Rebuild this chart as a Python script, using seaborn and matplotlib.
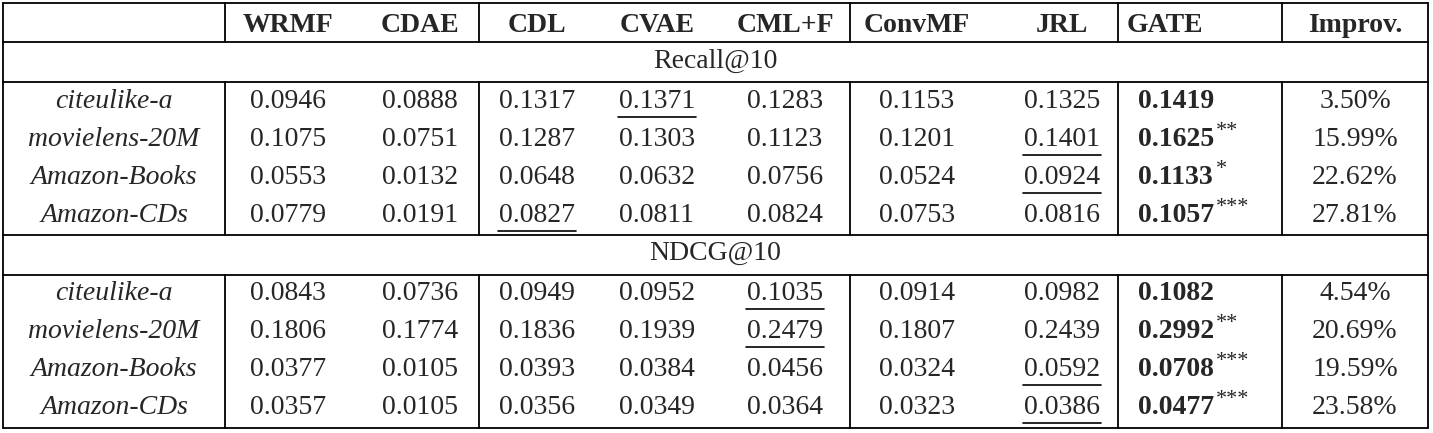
import matplotlib
matplotlib.use('Agg')
import matplotlib.pyplot as plt
import seaborn as sns

methods = ['WRMF', 'CDAE', 'CDL', 'CVAE', 'CML+F', 'ConvMF', 'JRL', 'GATE', 'Improv.']
datasets = ['citeulike-a', 'movielens-20M', 'Amazon-Books', 'Amazon-CDs']

recall = [
    [0.0946, 0.0888, 0.1317, 0.1371, 0.1283, 0.1153, 0.1325, 0.1419],
    [0.1075, 0.0751, 0.1287, 0.1303, 0.1123, 0.1201, 0.1401, 0.1625],
    [0.0553, 0.0132, 0.0648, 0.0632, 0.0756, 0.0524, 0.0924, 0.1133],
    [0.0779, 0.0191, 0.0827, 0.0811, 0.0824, 0.0753, 0.0816, 0.1057],
]
recall_impr = ['3.50%', '15.99%', '22.62%', '27.81%']
recall_stars = ['', '**', '*', '***']
recall_under = [3, 6, 6, 2]

ndcg = [
    [0.0843, 0.0736, 0.0949, 0.0952, 0.1035, 0.0914, 0.0982, 0.1082],
    [0.1806, 0.1774, 0.1836, 0.1939, 0.2479, 0.1807, 0.2439, 0.2992],
    [0.0377, 0.0105, 0.0393, 0.0384, 0.0456, 0.0324, 0.0592, 0.0708],
    [0.0357, 0.0105, 0.0356, 0.0349, 0.0364, 0.0323, 0.0386, 0.0477],
]
ndcg_impr = ['4.54%', '20.69%', '19.59%', '23.58%']
ndcg_stars = ['', '**', '***', '***']
ndcg_under = [4, 4, 6, 6]

sns.set_style('white')
plt.rcParams['font.family'] = ['Liberation Serif', 'DejaVu Serif']

fig = plt.figure(figsize=(14.33, 4.33), dpi=100)
ax = fig.add_axes([0, 0, 1, 1])
ax.set_xlim(0, 1433)
ax.set_ylim(433, 0)
ax.axis('off')

fs = 20
col_x = [288, 420, 537, 657, 785, 917, 1062, 1138, 1355]
head_x = [288, 420, 537, 657, 785, 917, 1062, 1165, 1355]
label_x = 114
lw = 1.3

# grid lines
for y in [3, 42, 82, 235, 275, 428]:
    ax.plot([3, 1428], [y, y], color='black', lw=lw)
for x in [3, 1428]:
    ax.plot([x, x], [3, 428], color='black', lw=lw)
for x in [225, 479, 850, 1118, 1282]:
    ax.plot([x, x], [3, 42], color='black', lw=lw)
    ax.plot([x, x], [82, 235], color='black', lw=lw)
    ax.plot([x, x], [275, 428], color='black', lw=lw)

for i, m in enumerate(methods):
    ax.text(head_x[i], 23, m, ha='center', va='center_baseline', fontsize=fs, fontweight='bold')

def block(title, y0, vals, impr, stars, under):
    ax.text(715, y0 - 40, title, ha='center', va='center', fontsize=fs)
    for r, name in enumerate(datasets):
        y = y0 + r * 38
        ax.text(label_x, y, name, ha='center', va='center', fontsize=fs, style='italic')
        for c, v in enumerate(vals[r]):
            s = f'{v:.4f}'
            if c == 7:
                ax.text(col_x[c], y, s, ha='left', va='center', fontsize=fs, fontweight='bold')
                ax.text(col_x[c] + 78, y - 8, stars[r], ha='left', va='center', fontsize=16)
            else:
                ax.text(col_x[c], y, s, ha='center', va='center', fontsize=fs)
        c = under[r]
        ax.plot([col_x[c] - 39, col_x[c] + 39], [y + 16, y + 16], color='black', lw=1.2)
        ax.text(col_x[8], y, impr[r], ha='center', va='center', fontsize=fs)

block('Recall@10', 101, recall, recall_impr, recall_stars, recall_under)
block('NDCG@10', 293, ndcg, ndcg_impr, ndcg_stars, ndcg_under)

fig.savefig('out.png', dpi=100)
